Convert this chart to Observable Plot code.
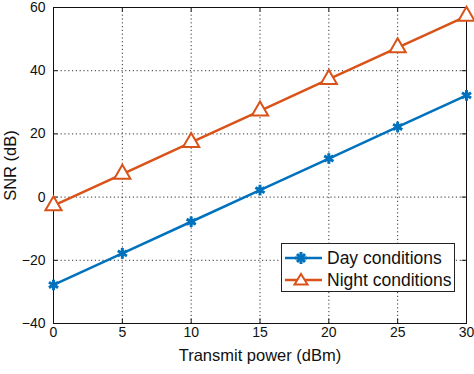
<!DOCTYPE html>
<html><head><meta charset="utf-8">
<script src="https://cdn.jsdelivr.net/npm/d3@7"></script>
<script src="https://cdn.jsdelivr.net/npm/@observablehq/plot@0.6"></script>
<style>
body{margin:0;background:#fff;font-family:"Liberation Sans",Arial,sans-serif;}
#wrap{position:relative;width:474px;height:374px;}
#legend{position:absolute;left:281px;top:243px;width:174px;height:49px;border:1px solid #222;background:#fff;font-size:17.5px;color:#111;box-sizing:border-box;}
#legend .row{position:absolute;left:0;height:22px;display:flex;align-items:center;}
#legend svg{display:block}
</style></head><body>
<div id="wrap"></div>
<script>
const power = [0, 5, 10, 15, 20, 25, 30];
const daySNR = [-27.8, -17.8, -7.8, 2.2, 12.2, 22.2, 32.2];
const nightSNR = [-2.7, 7.3, 17.3, 27.3, 37.3, 47.3, 57.3];
const seriesNames = ["Day conditions", "Night conditions"];
const xTicks = [0, 5, 10, 15, 20, 25, 30];
const yTicks = [-40, -20, 0, 20, 40, 60];
const xLabel = "Transmit power (dBm)";
const yLabel = "SNR (dB)";
const blue = "#0072BD", orange = "#D95319";

const day = power.map((p, i) => ({x: p, y: daySNR[i]}));
const night = power.map((p, i) => ({x: p, y: nightSNR[i]}));

const chart = Plot.plot({
  width: 474, height: 374,
  marginLeft: 53, marginRight: 8, marginTop: 7, marginBottom: 51,
  style: {fontFamily: "Liberation Sans, Arial, sans-serif", fontSize: "14px", color: "#111", background: "white"},
  x: {domain: [0, 30]},
  y: {domain: [-40, 60]},
  marks: [
    Plot.ruleX(xTicks.slice(1, -1), {stroke: "#333", strokeDasharray: "1.2,2.6", strokeWidth: 1}),
    Plot.ruleY(yTicks.slice(1, -1), {stroke: "#333", strokeDasharray: "1.2,2.6", strokeWidth: 1}),
    Plot.ruleX(xTicks, {y1: -40, y2: -38.6, stroke: "#111"}),
    Plot.ruleX(xTicks, {y1: 60, y2: 58.6, stroke: "#111"}),
    Plot.ruleY(yTicks, {x1: 0, x2: 0.32, stroke: "#111"}),
    Plot.ruleY(yTicks, {x1: 30, x2: 29.68, stroke: "#111"}),
    Plot.axisX({ticks: xTicks, tickSize: 0, tickPadding: 4, fontSize: 14, label: null}),
    Plot.axisY({ticks: yTicks, tickSize: 0, tickPadding: 8, fontSize: 14, label: null}),
    Plot.text([xLabel], {text: d => d, frameAnchor: "bottom", lineAnchor: "middle", textAnchor: "middle", dy: 32, fontSize: 16.5, fill: "#111"}),
    Plot.text([yLabel], {text: d => d, frameAnchor: "left", lineAnchor: "middle", textAnchor: "middle", dx: -43, rotate: -90, fontSize: 16.5, fill: "#111"}),
    Plot.frame({stroke: "#111", strokeWidth: 1}),
    Plot.line(day, {x: "x", y: "y", stroke: blue, strokeWidth: 2.5}),
    Plot.line(night, {x: "x", y: "y", stroke: orange, strokeWidth: 2.5}),
    Plot.dot(day, {x: "x", y: "y", symbol: "asterisk", r: 5, stroke: blue, strokeWidth: 3}),
    Plot.dot(night, {x: "x", y: "y", symbol: "triangle", r: 6, stroke: orange, fill: "white", strokeWidth: 2})
  ]
});
const wrap = document.getElementById("wrap");
wrap.appendChild(chart);

const leg = document.createElement("div");
leg.id = "legend";
const sw = (i) => {
  const c = i === 0 ? blue : orange;
  const sym = i === 0
    ? `<g stroke="${c}" stroke-width="3"><line x1="19" y1="4" x2="19" y2="16"/><line x1="13" y1="10" x2="25" y2="10"/><line x1="15" y1="6" x2="23" y2="14"/><line x1="23" y1="6" x2="15" y2="14"/></g>`
    : `<path d="M19,4 L25.5,14.5 L12.5,14.5 Z" fill="white" stroke="${c}" stroke-width="2"/>`;
  return `<svg width="44" height="20"><line x1="3" y1="10" x2="40" y2="10" stroke="${c}" stroke-width="2.5"/>${sym}</svg>`;
};
seriesNames.forEach((name, i) => {
  const r = document.createElement("div");
  r.className = "row";
  r.style.top = (3 + i * 22) + "px";
  r.innerHTML = sw(i) + `<span style="margin-left:1px">${name}</span>`;
  leg.appendChild(r);
});
wrap.appendChild(leg);
</script>
</body></html>
